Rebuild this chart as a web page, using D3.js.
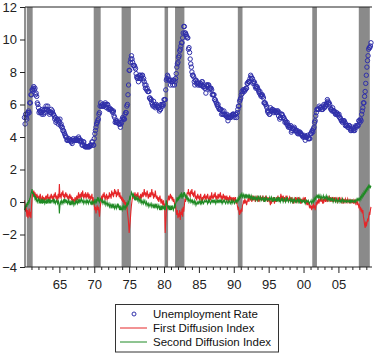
<!DOCTYPE html>
<html>
<head>
<meta charset="utf-8">
<script src="https://cdn.jsdelivr.net/npm/d3@7"></script>
<style>
  body { margin: 0; background: #fff; }
  svg { display: block; }
</style>
</head>
<body>
<svg id="chart" width="375" height="353"></svg>
<script>
// monthly series, Jan 1960 .. Sep 2009 (one row per year)
const START_YEAR = 1960;

const unemployment = [
  5.2,4.8,5.4,5.2,5.1,5.4,5.5,5.6,5.5,6.1,6.1,6.6,
  6.6,6.9,6.9,7.0,7.1,6.9,7.0,6.6,6.7,6.5,6.1,6.0,
  5.8,5.5,5.6,5.6,5.5,5.5,5.4,5.7,5.6,5.4,5.7,5.5,
  5.7,5.9,5.7,5.7,5.9,5.6,5.6,5.4,5.5,5.5,5.7,5.5,
  5.6,5.4,5.4,5.3,5.1,5.2,4.9,5.0,5.1,5.1,4.8,5.0,
  4.9,5.1,4.7,4.8,4.6,4.6,4.4,4.4,4.3,4.2,4.1,4.0,
  4.0,3.8,3.8,3.8,3.9,3.8,3.8,3.8,3.7,3.7,3.6,3.8,
  3.9,3.8,3.8,3.8,3.8,3.9,3.8,3.8,3.8,4.0,3.9,3.8,
  3.7,3.8,3.7,3.5,3.5,3.7,3.7,3.5,3.4,3.4,3.4,3.4,
  3.4,3.4,3.4,3.4,3.4,3.5,3.5,3.5,3.7,3.7,3.5,3.5,
  3.9,4.2,4.4,4.6,4.8,4.9,5.0,5.1,5.4,5.5,5.9,6.1,
  5.9,5.9,6.0,5.9,5.9,5.9,6.0,6.1,6.0,5.8,6.0,6.0,
  5.8,5.7,5.8,5.7,5.7,5.7,5.6,5.6,5.5,5.6,5.3,5.2,
  4.9,5.0,4.9,5.0,4.9,4.9,4.8,4.8,4.8,4.6,4.8,4.9,
  5.1,5.2,5.1,5.1,5.1,5.4,5.5,5.5,5.9,6.0,6.6,7.2,
  8.1,8.1,8.6,8.8,9.0,8.8,8.6,8.4,8.4,8.4,8.3,8.2,
  7.9,7.7,7.6,7.7,7.4,7.6,7.8,7.8,7.6,7.7,7.8,7.8,
  7.5,7.6,7.4,7.2,7.0,7.2,6.9,7.0,6.8,6.8,6.8,6.4,
  6.4,6.3,6.3,6.1,6.0,5.9,6.2,5.9,6.0,5.8,5.9,6.0,
  5.9,5.9,5.8,5.8,5.6,5.7,5.7,6.0,5.9,6.0,5.9,6.0,
  6.3,6.3,6.3,6.9,7.5,7.6,7.8,7.7,7.5,7.5,7.5,7.2,
  7.5,7.4,7.4,7.2,7.5,7.5,7.2,7.4,7.6,7.9,8.3,8.5,
  8.6,8.9,9.0,9.3,9.4,9.6,9.8,9.8,10.1,10.4,10.8,10.8,
  10.4,10.4,10.3,10.2,10.1,10.1,9.4,9.5,9.2,8.8,8.5,8.3,
  8.0,7.8,7.8,7.7,7.4,7.2,7.5,7.5,7.3,7.4,7.2,7.3,
  7.3,7.2,7.2,7.3,7.2,7.4,7.4,7.1,7.1,7.1,7.0,7.0,
  6.7,7.2,7.2,7.1,7.2,7.2,7.0,6.9,7.0,7.0,6.9,6.6,
  6.6,6.6,6.6,6.3,6.3,6.2,6.1,6.0,5.9,6.0,5.8,5.7,
  5.7,5.7,5.7,5.4,5.6,5.4,5.4,5.6,5.4,5.4,5.3,5.3,
  5.4,5.2,5.0,5.2,5.2,5.3,5.2,5.2,5.3,5.3,5.4,5.4,
  5.4,5.3,5.2,5.4,5.4,5.2,5.5,5.7,5.9,5.9,6.2,6.3,
  6.4,6.6,6.8,6.7,6.9,6.9,6.8,6.9,6.9,7.0,7.0,7.3,
  7.3,7.4,7.4,7.4,7.6,7.8,7.7,7.6,7.6,7.3,7.4,7.4,
  7.3,7.1,7.0,7.1,7.1,7.0,6.9,6.8,6.7,6.8,6.6,6.5,
  6.6,6.6,6.5,6.4,6.1,6.1,6.1,6.0,5.9,5.8,5.6,5.5,
  5.6,5.4,5.4,5.8,5.6,5.6,5.7,5.7,5.6,5.5,5.6,5.6,
  5.6,5.5,5.5,5.6,5.6,5.3,5.5,5.1,5.2,5.2,5.4,5.4,
  5.3,5.2,5.2,5.1,4.9,5.0,4.9,4.8,4.9,4.7,4.6,4.7,
  4.6,4.6,4.7,4.3,4.4,4.5,4.5,4.5,4.6,4.5,4.4,4.4,
  4.3,4.4,4.2,4.3,4.2,4.3,4.3,4.2,4.2,4.1,4.1,4.0,
  4.0,4.1,4.0,3.8,4.0,4.0,4.0,4.1,3.9,3.9,3.9,3.9,
  4.2,4.2,4.3,4.4,4.3,4.5,4.6,4.9,5.0,5.3,5.5,5.7,
  5.7,5.7,5.7,5.9,5.8,5.8,5.8,5.7,5.7,5.7,5.9,6.0,
  5.8,5.9,5.9,6.0,6.1,6.3,6.2,6.1,6.1,6.0,5.8,5.7,
  5.7,5.6,5.8,5.6,5.6,5.6,5.5,5.4,5.4,5.5,5.4,5.4,
  5.3,5.4,5.2,5.2,5.1,5.0,5.0,4.9,5.0,5.0,5.0,4.9,
  4.7,4.8,4.7,4.7,4.6,4.6,4.7,4.7,4.5,4.4,4.5,4.4,
  4.6,4.5,4.4,4.5,4.4,4.6,4.7,4.6,4.7,4.7,4.7,5.0,
  5.0,4.9,5.1,5.0,5.4,5.6,5.8,6.1,6.1,6.5,6.8,7.3,
  7.8,8.3,8.7,9.0,9.4,9.5,9.5,9.6,9.8
];

const firstDiffusion = [
  0.1,-0.2,-0.6,-0.3,-0.9,-0.5,-1.0,-0.7,-0.4,-0.9,-0.6,-1.0,
  -0.3,0.2,0.6,0.5,0.7,0.4,0.6,0.3,0.5,0.2,0.4,0.3,
  0.2,0.4,0.1,0.5,0.3,0.0,0.2,0.4,0.1,0.3,0.0,0.2,
  0.3,0.1,0.4,0.2,0.5,0.1,0.3,0.0,0.4,0.2,0.5,0.3,
  0.2,0.4,0.1,0.5,0.3,0.6,0.2,0.4,0.0,0.3,0.5,0.2,
  1.1,0.3,0.5,0.2,0.6,0.4,0.7,0.3,0.5,0.2,0.4,0.6,
  0.3,0.5,0.2,0.4,0.1,0.3,0.5,0.2,0.4,0.1,0.3,0.0,
  0.2,-0.1,0.1,0.3,0.0,0.2,0.4,0.1,0.3,0.6,0.2,0.4,
  0.5,0.2,0.6,0.3,0.7,0.4,0.2,0.5,0.3,0.6,0.2,0.4,
  0.3,0.6,0.2,0.5,0.3,0.1,0.4,0.2,0.5,0.0,0.3,-0.1,
  -0.2,-0.5,-0.3,-0.7,-0.4,-0.2,-0.5,-0.3,-0.6,-0.9,-0.4,-0.1,
  0.2,0.4,0.1,0.5,0.3,0.6,0.2,0.4,0.1,0.5,0.3,0.2,
  0.4,0.2,0.6,0.3,0.5,0.2,0.7,0.4,0.6,0.3,0.5,0.8,
  0.5,0.7,0.3,0.6,0.4,0.8,0.5,0.3,0.6,0.2,0.4,0.1,
  0.3,0.0,0.2,-0.1,0.1,-0.2,0.0,-0.4,-0.2,-0.6,-0.9,-1.3,
  -1.9,-1.5,-1.1,-0.6,-0.2,0.1,0.4,0.2,0.5,0.3,0.6,0.4,
  0.2,0.5,0.3,0.6,0.2,0.4,0.1,0.3,0.5,0.2,0.4,0.6,
  0.3,0.5,0.8,0.4,0.6,0.3,0.5,0.7,0.4,0.2,0.5,0.3,
  0.6,0.3,0.5,0.8,0.4,0.6,0.2,0.5,0.3,0.7,0.4,0.2,
  0.4,0.1,0.3,0.0,0.2,0.4,0.1,-0.1,0.2,0.0,-0.2,0.1,
  -0.3,-0.1,-1.9,-1.2,-0.6,-0.3,0.0,0.2,0.4,0.1,0.3,0.5,
  0.2,0.4,0.1,0.3,0.0,0.2,-0.1,-0.4,-0.2,-0.6,-0.8,-0.5,
  -1.0,-0.7,-0.9,-0.5,-1.1,-0.6,-0.8,-0.4,-0.9,-0.3,-0.6,-0.2,
  0.2,0.0,0.4,0.3,0.6,0.5,0.8,0.4,0.6,0.3,0.7,0.5,
  0.8,0.4,0.6,0.3,0.5,0.7,0.2,0.4,0.1,0.3,0.5,0.2,
  0.4,0.1,0.3,0.5,0.2,0.0,0.3,0.1,0.4,0.2,0.5,0.3,
  0.1,0.4,0.2,0.5,0.3,0.0,0.2,0.4,0.1,0.3,0.6,0.2,
  0.4,0.2,0.5,0.3,0.6,0.2,0.4,0.1,0.3,0.5,0.2,0.4,
  0.3,0.6,0.2,0.4,0.1,0.3,0.5,0.2,0.4,0.1,0.3,0.2,
  0.4,0.1,0.3,0.0,0.2,0.4,0.1,0.3,0.0,0.2,0.1,0.3,
  0.0,0.2,0.1,0.3,-0.1,0.1,-0.2,-0.4,-0.3,-0.6,-0.8,-0.5,
  -0.7,-0.4,-0.6,-0.2,-0.1,0.1,-0.1,0.2,0.0,0.1,-0.2,0.0,
  0.1,0.3,0.0,0.2,0.4,0.1,0.3,0.0,0.2,0.4,0.1,0.3,
  0.2,0.0,0.3,0.1,0.4,0.2,0.0,0.3,0.1,0.2,0.4,0.1,
  0.3,0.1,0.4,0.2,0.0,0.3,0.2,0.4,0.1,0.3,0.0,0.2,
  0.1,0.3,0.0,-0.2,0.1,-0.1,0.2,0.0,0.3,0.1,-0.1,0.2,
  0.0,0.3,0.1,0.2,0.4,0.1,0.3,0.0,0.2,0.5,0.1,0.3,
  0.2,0.4,0.1,0.3,0.0,0.2,0.4,0.1,0.3,0.2,0.0,0.2,
  0.3,0.1,0.2,0.0,0.3,0.1,-0.1,0.2,0.0,0.1,0.3,0.1,
  0.2,0.0,0.1,0.3,0.0,0.2,0.1,-0.1,0.2,0.0,0.1,0.2,
  0.0,0.2,0.1,0.3,0.0,-0.1,0.1,-0.2,0.0,-0.1,-0.3,-0.2,
  -0.4,-0.2,-0.5,-0.3,-0.4,-0.1,-0.3,-0.2,-0.5,-0.3,0.0,-0.2,
  0.1,-0.1,0.2,0.0,0.1,0.3,0.0,0.2,0.1,-0.1,0.2,0.0,
  0.1,0.3,0.0,0.2,0.1,0.3,0.0,0.2,0.4,0.1,0.3,0.0,
  0.2,0.1,0.3,0.0,0.2,0.1,0.3,0.0,0.2,0.1,0.0,0.2,
  0.1,0.3,0.0,0.2,0.1,0.0,0.2,0.1,-0.1,0.2,0.0,0.1,
  0.2,0.0,0.1,0.0,0.2,0.1,0.0,0.1,-0.1,0.1,0.0,0.1,
  0.0,0.1,-0.1,0.1,0.0,-0.1,0.1,0.0,-0.2,0.0,-0.1,-0.3,
  -0.2,-0.4,-0.3,-0.6,-0.4,-0.7,-0.5,-0.9,-1.1,-1.4,-1.6,-1.2,
  -1.5,-1.3,-1.1,-1.2,-0.9,-0.7,-0.8,-0.5,-0.3
];

const secondDiffusion = [
  -0.5,-0.3,-0.4,-0.1,-0.3,0.0,-0.2,0.1,0.0,0.2,0.3,0.5,
  0.6,0.8,0.5,0.6,0.3,0.4,0.2,0.3,0.1,0.2,0.0,0.1,
  0.2,0.0,0.1,-0.1,0.1,0.0,0.2,-0.1,0.1,0.0,0.1,-0.1,
  0.0,0.1,-0.1,0.1,0.0,0.2,0.0,0.1,-0.1,0.1,0.0,0.1,
  0.1,0.0,0.2,0.0,0.1,-0.1,0.0,0.1,0.0,-0.1,0.1,0.0,
  -0.7,-0.2,0.0,-0.1,0.1,0.0,-0.1,0.1,0.0,0.2,0.0,0.1,
  0.0,0.1,-0.1,0.0,0.1,-0.1,0.0,-0.2,0.0,-0.1,0.1,-0.1,
  0.0,-0.2,-0.1,0.0,-0.1,0.1,0.0,-0.1,0.1,0.0,0.2,0.0,
  0.1,0.0,0.2,0.1,0.0,0.1,-0.1,0.0,0.1,0.0,-0.1,0.1,
  0.0,0.1,-0.1,0.0,0.1,0.0,-0.1,0.0,-0.2,0.0,-0.1,0.0,
  0.1,-0.1,0.0,0.2,0.0,0.1,0.3,0.1,0.2,0.0,0.1,0.2,
  0.1,0.0,0.1,-0.1,0.0,0.1,-0.1,0.0,-0.2,-0.1,0.0,-0.2,
  -0.1,-0.2,-0.3,-0.1,-0.2,-0.4,-0.2,-0.3,-0.1,-0.3,-0.2,-0.4,
  -0.3,-0.2,-0.4,-0.3,-0.1,-0.3,-0.2,-0.4,-0.3,-0.5,-0.3,-0.4,
  -0.5,-0.3,-0.4,-0.2,-0.3,-0.5,-0.2,-0.3,-0.1,-0.2,0.0,-0.1,
  0.1,0.3,0.2,0.4,0.6,0.5,0.3,0.5,0.4,0.2,0.3,0.1,
  0.3,0.2,0.1,0.3,0.2,0.0,0.1,0.2,0.0,0.1,-0.1,0.0,
  0.1,-0.1,0.0,0.1,-0.1,-0.2,0.0,-0.1,-0.2,-0.1,-0.3,-0.2,
  -0.1,-0.2,-0.3,-0.1,-0.2,-0.3,-0.2,-0.4,-0.2,-0.3,-0.1,-0.3,
  -0.2,-0.4,-0.3,-0.2,-0.4,-0.3,-0.5,-0.3,-0.4,-0.2,-0.4,-0.3,
  -0.4,-0.3,-0.5,-0.2,0.1,-0.1,-0.3,-0.4,-0.2,-0.4,-0.3,-0.5,
  -0.3,-0.4,-0.2,-0.4,-0.5,-0.3,-0.2,-0.4,-0.1,0.0,0.2,0.1,
  0.3,0.1,0.4,0.2,0.5,0.3,0.6,0.2,0.4,0.5,0.3,0.6,
  0.5,0.3,0.4,0.2,0.3,0.1,0.2,0.0,0.1,0.2,0.0,0.1,
  0.0,0.1,-0.1,0.0,0.1,-0.1,0.0,-0.2,-0.1,0.0,-0.1,0.0,
  -0.1,0.0,0.1,-0.1,0.0,-0.1,0.1,0.0,-0.1,0.0,0.1,0.0,
  0.0,0.1,0.0,-0.1,0.1,0.0,0.1,0.0,-0.1,0.0,0.1,0.0,
  0.1,0.0,0.1,0.0,0.1,-0.1,0.0,0.1,0.0,0.1,0.0,0.1,
  0.0,0.1,0.0,0.1,-0.1,0.0,0.1,0.0,0.1,0.0,-0.1,0.0,
  0.1,0.0,-0.1,0.0,0.1,0.0,-0.1,0.0,0.1,-0.1,0.0,0.1,
  0.0,-0.1,0.0,0.1,0.0,0.1,0.0,0.2,0.1,0.3,0.2,0.4,
  0.3,0.5,0.4,0.3,0.5,0.4,0.2,0.4,0.3,0.5,0.3,0.4,
  0.3,0.4,0.2,0.4,0.3,0.2,0.4,0.3,0.1,0.3,0.2,0.3,
  0.2,0.3,0.1,0.2,0.3,0.1,0.2,0.4,0.2,0.1,0.3,0.2,
  0.1,0.2,0.3,0.1,0.2,0.0,0.2,0.1,0.3,0.2,0.1,0.2,
  0.2,0.1,0.3,0.2,0.1,0.3,0.2,0.0,0.2,0.1,0.3,0.1,
  0.1,0.2,0.0,0.2,0.1,0.3,0.1,0.2,0.0,0.1,0.2,0.1,
  0.2,0.0,0.1,0.2,0.1,0.0,0.2,0.1,0.3,0.1,0.0,0.1,
  0.1,0.2,0.0,0.1,0.2,0.0,0.1,0.0,0.2,0.1,0.0,0.1,
  0.0,0.1,0.2,0.0,0.1,0.0,0.2,0.1,0.0,0.1,0.0,0.1,
  0.1,0.0,0.1,-0.1,0.0,0.1,0.0,0.0,0.1,0.0,-0.1,0.0,
  0.0,0.1,-0.1,0.0,0.1,0.0,0.2,0.1,0.3,0.2,0.3,0.4,
  0.3,0.4,0.2,0.4,0.3,0.2,0.4,0.3,0.2,0.3,0.4,0.2,
  0.3,0.2,0.3,0.4,0.2,0.3,0.1,0.2,0.3,0.1,0.2,0.1,
  0.2,0.1,0.2,0.0,0.1,0.2,0.1,0.0,0.1,0.2,0.0,0.1,
  0.1,0.0,0.2,0.1,0.0,0.1,0.0,0.2,0.1,0.0,0.1,0.0,
  0.0,0.1,0.0,0.1,0.0,0.0,0.1,0.0,0.1,0.0,0.1,0.0,
  0.1,0.0,0.0,0.1,0.0,0.1,0.0,0.1,0.2,0.1,0.2,0.1,
  0.2,0.1,0.3,0.2,0.4,0.3,0.5,0.4,0.6,0.5,0.7,0.6,
  0.8,0.7,0.9,0.8,1.0,0.9,1.0,0.9,1.0
];

// NBER recessions as [start, end] in decimal years
const recessions = [
  [1960.33, 1961.17], [1969.92, 1970.92], [1973.92, 1975.25],
  [1980.08, 1980.58], [1981.58, 1982.92], [1990.58, 1991.25],
  [2001.25, 2001.92], [2007.92, 2009.5]
];

const yTicks = [-4, -2, 0, 2, 4, 6, 8, 10, 12];
const xLabelYears = [1965, 1970, 1975, 1980, 1985, 1990, 1995, 2000, 2005];
const legendLabels = ['Unemployment Rate', 'First Diffusion Index', 'Second Diffusion Index'];

(function(){
  const BLUE = '#3030aa', RED = '#e52629', GREEN = '#1f8a24', BAR = '#8a8a8a';
  const FONT = '"Liberation Sans", Arial, Helvetica, sans-serif';

  const svg = d3.select('#chart');
  const L = 25, R = 372, T = 7, B = 267;

  const x = d3.scaleLinear().domain([1960, 2010]).range([24.5, 373.3]);
  const y = d3.scaleLinear().domain([-4, 12]).range([B, T]);
  const t = i => START_YEAR + i / 12;

  // recession shading
  svg.append('g').selectAll('rect').data(recessions).join('rect')
    .attr('x', d => x(d[0]))
    .attr('width', d => x(d[1]) - x(d[0]))
    .attr('y', T)
    .attr('height', B - T)
    .attr('fill', BAR);

  // diffusion lines
  const line = d3.line().x((d, i) => x(t(i))).y(d => y(d));
  svg.append('path').datum(firstDiffusion)
    .attr('d', line).attr('fill', 'none').attr('stroke', RED).attr('stroke-width', 1.1);
  svg.append('path').datum(secondDiffusion)
    .attr('d', line).attr('fill', 'none').attr('stroke', GREEN).attr('stroke-width', 1.1);

  // unemployment circles
  svg.append('g').selectAll('circle').data(unemployment).join('circle')
    .attr('cx', (d, i) => x(t(i)))
    .attr('cy', d => y(d))
    .attr('r', 2.2)
    .attr('fill', 'none')
    .attr('stroke', BLUE)
    .attr('stroke-width', 1);

  // axes
  const yAxis = svg.append('g').attr('transform', `translate(${L},0)`)
    .call(d3.axisLeft(y).tickValues(yTicks).tickSize(5).tickSizeOuter(0).tickPadding(3));
  const xMinor = svg.append('g').attr('transform', `translate(0,${B})`)
    .call(d3.axisBottom(x).tickValues(d3.range(1961, 2010).filter(v => v % 5)).tickSize(3).tickSizeOuter(0).tickFormat(''));
  const xAxis = svg.append('g').attr('transform', `translate(0,${B})`)
    .call(d3.axisBottom(x).tickValues(xLabelYears).tickSize(6).tickSizeOuter(0).tickPadding(7)
      .tickFormat(d => String(d % 100).padStart(2, '0')));

  [yAxis, xMinor, xAxis].forEach(a => {
    a.select('.domain').remove();
    a.selectAll('line').attr('stroke', '#222');
    a.selectAll('text').attr('fill', '#222').style('font-family', FONT).style('font-size', '13px');
  });

  // frame: top, left, bottom
  svg.append('path')
    .attr('d', `M${R},${T}H${L}V${B}H${R}`)
    .attr('fill', 'none').attr('stroke', '#222').attr('stroke-width', 1);

  // legend
  const lg = svg.append('g').attr('transform', 'translate(115,304)');
  lg.append('rect').attr('x', 0.5).attr('y', 0.5).attr('width', 163).attr('height', 47.5)
    .attr('fill', '#fff').attr('stroke', '#333');
  const rows = lg.selectAll('g.row').data(legendLabels).join('g')
    .attr('class', 'row').attr('transform', (d, i) => `translate(0,${10 + i * 14})`);
  rows.filter((d, i) => i === 0).append('circle')
    .attr('cx', 19).attr('cy', 0).attr('r', 2).attr('fill', 'none').attr('stroke', BLUE);
  rows.filter((d, i) => i > 0).append('line')
    .attr('x1', 5).attr('x2', 32).attr('y1', 0).attr('y2', 0)
    .attr('stroke', (d, i) => i === 0 ? RED : GREEN).attr('stroke-width', 1);
  rows.append('text').attr('x', 38).attr('y', 0).attr('dy', '0.35em')
    .style('font-family', FONT).style('font-size', '11.5px').attr('fill', '#111')
    .text(d => d);
})();
</script>
</body>
</html>
